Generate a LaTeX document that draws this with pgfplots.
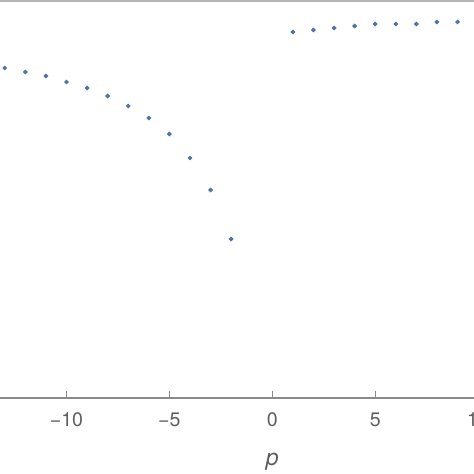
\documentclass[border=0pt]{standalone}
\usepackage{pgfplots}
\pgfplotsset{compat=1.18}
\usepackage{fontspec}
\setmainfont{TeX Gyre Heros}
\setsansfont{TeX Gyre Heros}
\definecolor{mmablue}{HTML}{4F72A8}
\definecolor{axisgray}{HTML}{8A8A8A}
\definecolor{framegray}{HTML}{B4B4B4}
\definecolor{labelgray}{HTML}{5E5E5E}
\begin{document}
\begin{tikzpicture}
\begin{axis}[
    scale only axis,
    width=237pt,
    height=198.5pt,
    xmin=-13.23, xmax=9.80,
    ymin=0, ymax=3.97,
    axis x line=bottom,
    axis y line=none,
    x axis line style={draw=axisgray, line width=0.65pt, -},
    xtick={-10,-5,0,5},
    xticklabels={−10,−5,0,5},
    tick align=inside,
    major tick length=3.5pt,
    tick style={draw=axisgray, line width=0.5pt},
    xticklabel style={font=\fontsize{9.8}{11}\selectfont, text=labelgray, anchor=base, yshift=-14.35pt},
    /pgf/number format/assume math mode=true,
    clip=false,
]
\addplot[only marks, mark=*, mark size=0.95pt, color=mmablue] coordinates {
    (-13,3.30) (-12,3.26) (-11,3.22) (-10,3.16) (-9,3.10) (-8,3.02)
    (-7,2.92) (-6,2.80) (-5,2.64) (-4,2.40) (-3,2.08) (-2,1.59)
};
\addplot[only marks, mark=*, mark size=0.95pt, color=mmablue] coordinates {
    (1,3.66) (2,3.68) (3,3.70) (4,3.72) (5,3.74) (6,3.74) (7,3.74) (8,3.76) (9,3.76)
};
\draw[framegray, line width=1pt] (rel axis cs:0,1) -- (rel axis cs:1,1);
% tick label of 10 lies just past the visible range
\node[anchor=base, font=\fontsize{9.8}{11}\selectfont, text=labelgray, yshift=-14.35pt] at (axis cs:10,0) {10};
\node[anchor=base, font=\fontsize{11.5}{13}\selectfont\itshape, text=labelgray, yshift=-34pt] at (axis cs:0,0) {p};
\coordinate (bl) at (rel axis cs:0,-0.1914);
\coordinate (tr) at (rel axis cs:1,1.0025);
\end{axis}
\pgfresetboundingbox
\useasboundingbox (bl) rectangle (tr);
\end{tikzpicture}
\end{document}
